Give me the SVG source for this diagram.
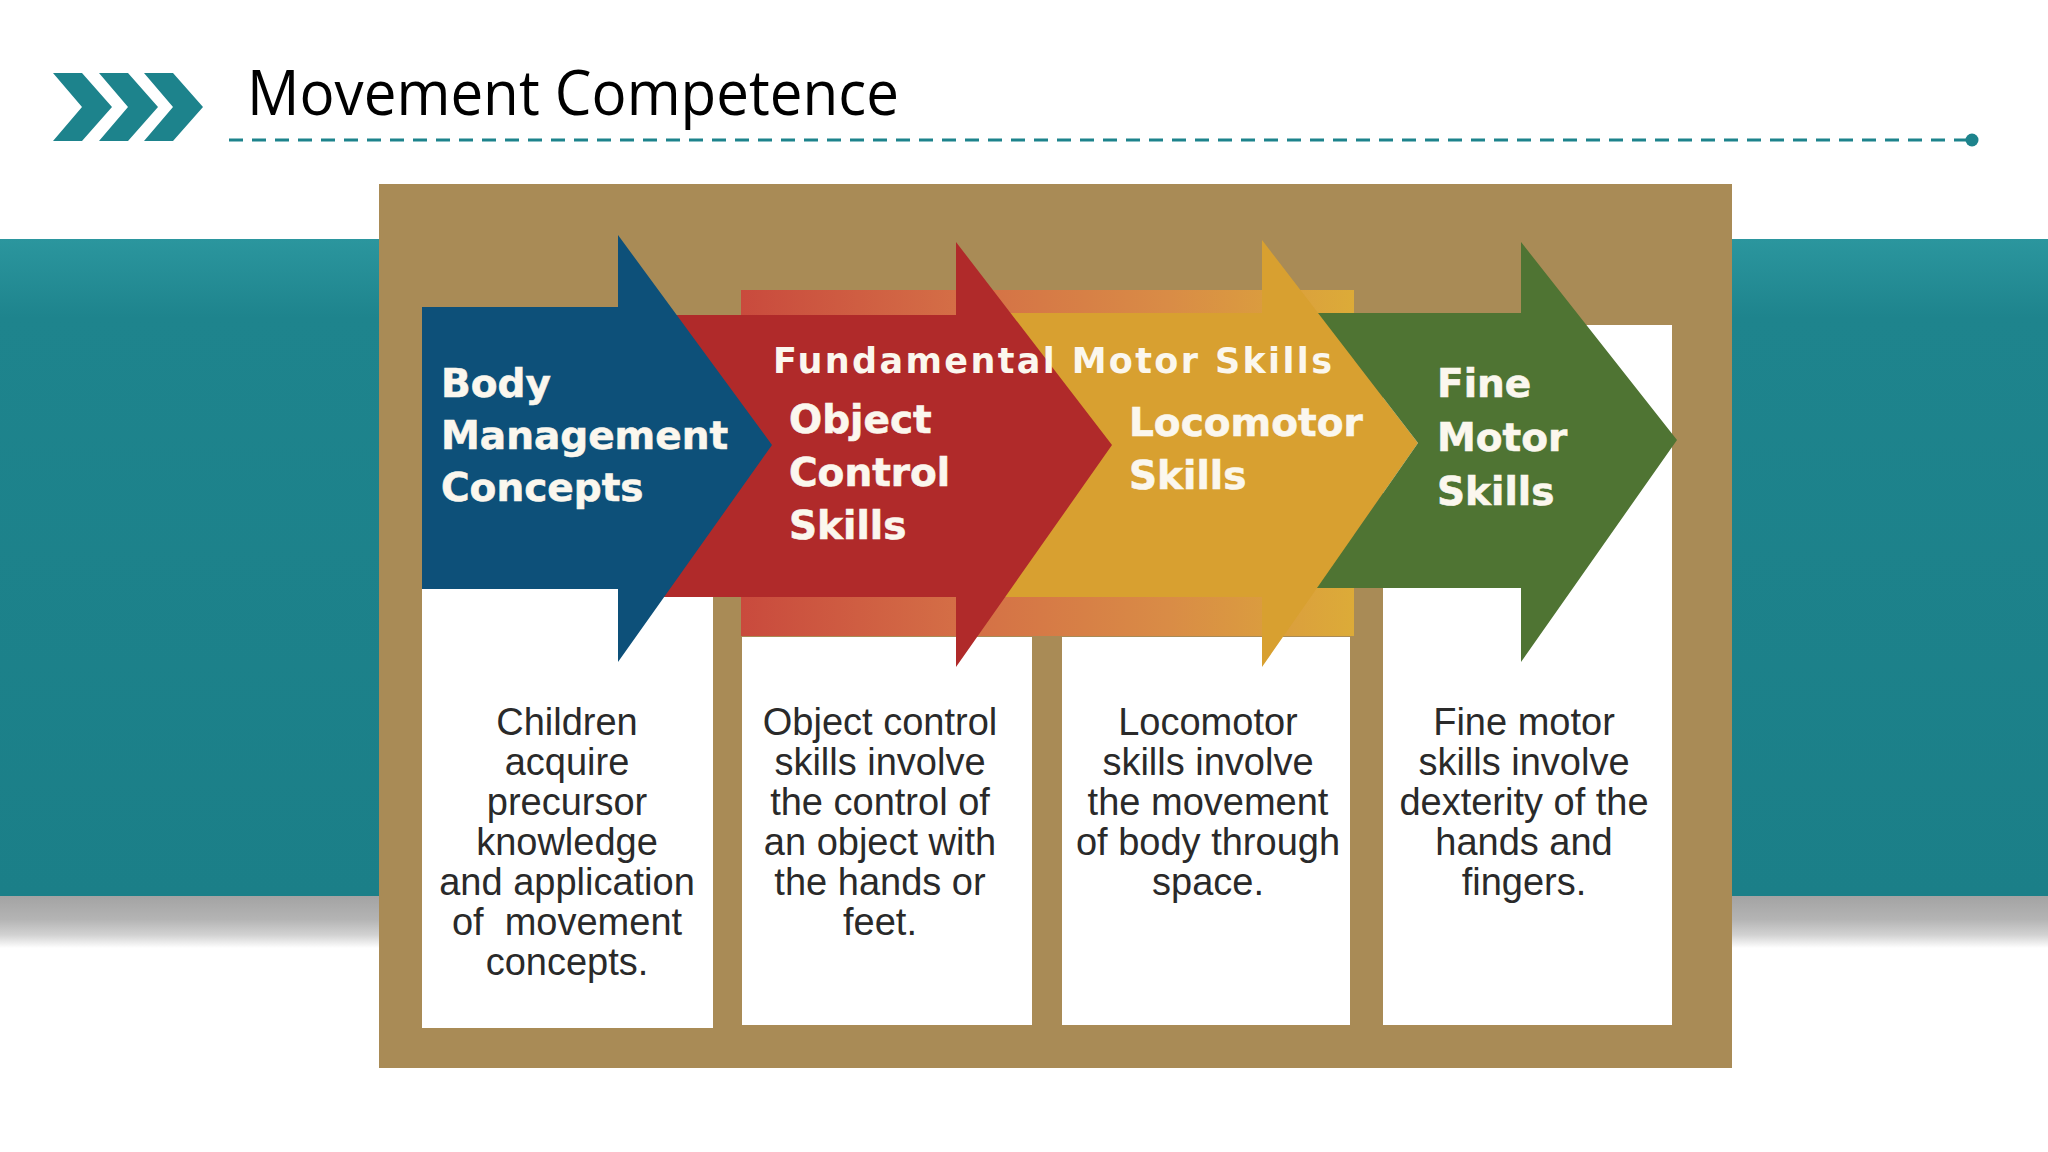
<svg xmlns="http://www.w3.org/2000/svg" width="2048" height="1152" viewBox="0 0 2048 1152">
<defs>
<linearGradient id="tealGrad" x1="0" y1="0" x2="0" y2="1">
<stop offset="0" stop-color="#2b969e"/>
<stop offset="0.12" stop-color="#1e848d"/>
<stop offset="1" stop-color="#1b7f88"/>
</linearGradient>
<linearGradient id="shadowGrad" x1="0" y1="0" x2="0" y2="1">
<stop offset="0" stop-color="#a3a3a3"/>
<stop offset="0.45" stop-color="#b4b4b4"/>
<stop offset="0.75" stop-color="#d2d2d2"/>
<stop offset="1" stop-color="#ffffff"/>
</linearGradient>
<linearGradient id="bandGrad" gradientUnits="userSpaceOnUse" x1="741" y1="0" x2="1354" y2="0">
<stop offset="0" stop-color="#c94a3d"/>
<stop offset="0.35" stop-color="#d46e46"/>
<stop offset="0.7" stop-color="#d98c46"/>
<stop offset="1" stop-color="#dcab38"/>
</linearGradient>
<style>
.chev{fill:#1d838c}
.lbl{font-family:"DejaVu Sans",sans-serif;font-weight:bold;font-size:39px;fill:#fbf7ee;stroke:#fbf7ee;stroke-width:0.6px}
.desc{font-family:"Liberation Sans",Arial,sans-serif;font-size:38px;fill:#2a2a2a;text-anchor:middle;white-space:pre}
.box{fill:#ffffff}
</style>
</defs>

<rect width="2048" height="1152" fill="#ffffff"/>

<g id="header">
<polygon class="chev" points="53,73 82,73 112,107 82,141 53,141 82,107"/>
<polygon class="chev" points="99,73 128,73 158,107 128,141 99,141 128,107"/>
<polygon class="chev" points="144,73 173,73 203,107 173,141 144,141 173,107"/>
<text x="247" y="115" font-family="'Open Sans',sans-serif" font-size="62" fill="#000000" textLength="652" lengthAdjust="spacingAndGlyphs">Movement Competence</text>
<line x1="229" y1="140" x2="1966" y2="140" stroke="#1d838c" stroke-width="3" stroke-dasharray="14 9"/>
<circle cx="1972" cy="140" r="6.5" fill="#1d838c"/>
</g>

<g id="background">
<rect x="0" y="896" width="2048" height="52" fill="url(#shadowGrad)"/>
<rect x="0" y="239" width="2048" height="657" fill="url(#tealGrad)"/>
<rect x="379" y="184" width="1353" height="884" fill="#a98b56"/>
</g>

<g id="box-body">
<rect class="box" x="422" y="588" width="291" height="440"/>
</g>
<g id="box-object">
<rect class="box" x="742" y="637" width="290" height="388"/>
</g>
<g id="box-locomotor">
<rect class="box" x="1062" y="637" width="288" height="388"/>
</g>
<g id="box-fine">
<rect class="box" x="1383" y="325" width="289" height="700"/>
</g>

<g id="fundamental-group">
<rect x="741" y="290" width="613" height="346" fill="url(#bandGrad)"/>
</g>

<g id="arrow-locomotor">
<polygon fill="#d8a030" points="1000,313 1262,313 1262,240 1418,443 1262,667 1262,597 1000,597"/>
</g>

<g id="arrow-object">
<polygon fill="#b02a2a" points="640,315 956,315 956,242 1112,445 956,667 956,597 640,597"/>
</g>

<g id="arrow-body">
<polygon fill="#0d5079" points="422,307 618,307 618,235 772,445 618,662 618,589 422,589"/>
</g>

<g id="arrow-fine">
<polygon fill="#4f7433" points="1318,313 1521,313 1521,242 1677,440 1521,662 1521,588 1317,588 1418,443"/>
</g>

<g id="labels">
<text class="lbl" x="441" y="397">Body</text>
<text class="lbl" x="441" y="449">Management</text>
<text class="lbl" x="441" y="501">Concepts</text>
<text x="773" y="373" font-family="'DejaVu Sans',sans-serif" font-weight="bold" font-size="35" fill="#fbf7ee" textLength="559" lengthAdjust="spacing">Fundamental Motor Skills</text>
<text class="lbl" x="789" y="433">Object</text>
<text class="lbl" x="789" y="486">Control</text>
<text class="lbl" x="789" y="539">Skills</text>
<text class="lbl" x="1129" y="436">Locomotor</text>
<text class="lbl" x="1129" y="489">Skills</text>
<text class="lbl" x="1437" y="397">Fine</text>
<text class="lbl" x="1437" y="451">Motor</text>
<text class="lbl" x="1437" y="505">Skills</text>
</g>

<g id="descriptions">
<text class="desc" x="567" y="735">Children</text>
<text class="desc" x="567" y="775">acquire</text>
<text class="desc" x="567" y="815">precursor</text>
<text class="desc" x="567" y="855">knowledge</text>
<text class="desc" x="567" y="895">and application</text>
<text class="desc" x="567" y="935">of  movement</text>
<text class="desc" x="567" y="975">concepts.</text>

<text class="desc" x="880" y="735">Object control</text>
<text class="desc" x="880" y="775">skills involve</text>
<text class="desc" x="880" y="815">the control of</text>
<text class="desc" x="880" y="855">an object with</text>
<text class="desc" x="880" y="895">the hands or</text>
<text class="desc" x="880" y="935">feet.</text>

<text class="desc" x="1208" y="735">Locomotor</text>
<text class="desc" x="1208" y="775">skills involve</text>
<text class="desc" x="1208" y="815">the movement</text>
<text class="desc" x="1208" y="855">of body through</text>
<text class="desc" x="1208" y="895">space.</text>

<text class="desc" x="1524" y="735">Fine motor</text>
<text class="desc" x="1524" y="775">skills involve</text>
<text class="desc" x="1524" y="815">dexterity of the</text>
<text class="desc" x="1524" y="855">hands and</text>
<text class="desc" x="1524" y="895">fingers.</text>
</g>

<g id="connectors"/>
</svg>
